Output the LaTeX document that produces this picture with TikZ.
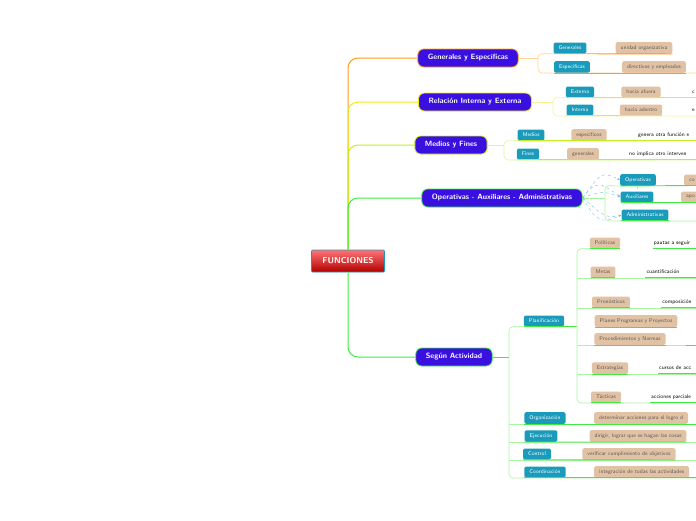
\documentclass[tikz,border=0pt]{standalone}
\usetikzlibrary{arrows.meta}
\definecolor{purp}{HTML}{3A10E0}
\definecolor{teal}{HTML}{1A9BBB}
\definecolor{tan}{HTML}{E2C2A4}
\definecolor{orng}{HTML}{FF9A1A}
\definecolor{yell}{HTML}{F2E81A}
\definecolor{lime}{HTML}{BEF21A}
\definecolor{grn}{HTML}{3EEB3E}
\definecolor{lgrn}{HTML}{A8F5A0}
\definecolor{lorng}{HTML}{FFD29A}
\definecolor{lyell}{HTML}{F5F09A}
\definecolor{llime}{HTML}{D8F7A0}
\tikzset{
 every node/.style={font=\sffamily},
 main/.style={draw=#1,line width=0.8pt,fill=purp,rounded corners=6pt,text=white,font=\sffamily\bfseries\fontsize{7.6}{8}\selectfont,minimum height=18pt,inner xsep=10pt},
 sub/.style={fill=teal,rounded corners=1.5pt,text=white,font=\sffamily\fontsize{5.4}{6}\selectfont,minimum height=11pt,inner xsep=5pt},
 leaf/.style={fill=tan,rounded corners=1.5pt,text=black!65,font=\sffamily\fontsize{5.4}{6}\selectfont,minimum height=11pt,inner xsep=5pt},
 txt/.style={text=black,font=\sffamily\fontsize{5.4}{6}\selectfont,inner xsep=1pt},
 ul/.style={line width=0.9pt,#1},
 br/.style={line width=0.6pt,rounded corners=4pt,#1},
}
\begin{document}
\begin{tikzpicture}[x=1pt,y=-1pt]
\useasboundingbox (0,0) rectangle (696,520);
\clip (0,0) rectangle (696,520);
\coordinate (xa) at (538,0);
\coordinate (xb) at (509,0);
\coordinate (xc) at (577,0);
\coordinate (xr) at (696,0);
\node[draw=teal,line width=0.6pt,top color=red!55!white,bottom color=red!70!black,text=white,font=\sffamily\bfseries\fontsize{8.5}{9}\selectfont,minimum width=73pt,minimum height=22pt,rounded corners=1pt] (root) at (348,261) {FUNCIONES};
\node[main=orng] (b1) at (468,58) {Generales y Especificas};
\node[main=yell] (b2) at (475,102) {Relación Interna y Externa};
\node[main=lime] (b3) at (451,145) {Medios y Fines};
\node[main=grn] (b4) at (502,198) {Operativas - Auxiliares - Administrativas};
\node[main=grn] (b5) at (454,357) {Según Actividad};
\draw[orng,line width=1pt,rounded corners=10pt] (root.north) |- (b1.west);
\draw[yell,line width=1pt,rounded corners=10pt] (root.north) |- (b2.west);
\draw[lime,line width=1pt,rounded corners=10pt] (root.north) |- (b3.west);
\draw[grn,line width=1pt,rounded corners=10pt] (root.north) |- (b4.west);
\draw[grn,line width=1pt,rounded corners=10pt] (root.south) |- (b5.west);
% branch 1
\node[sub] (g1) at (570,48) {Generales};
\node[sub] (g2) at (572,67) {Especificas};
\node[leaf] (g1l) at (644,48) {unidad organizativa};
\node[leaf] (g2l) at (654,67) {directivos y empleados};
\draw[br=lorng] (b1.east) -- (538,58);
\draw[br=lorng] (g1.south west) -- (xa |- g1.south west) -- (538,73) -- (696,73);
\draw[ul=orng] (g1.south west) -- (g1l.south east);
\draw[ul=orng] (g2.south west) -- (g2l.south east);
% branch 2
\node[sub] (e1) at (580,92) {Externa};
\node[sub] (e2) at (580,110) {Interna};
\node[leaf] (e1l) at (641,92) {hacia afuera};
\node[leaf] (e2l) at (641,110) {hacia adentro};
\node[txt,anchor=west] (e1t) at (691,92) {c};
\node[txt,anchor=west] (e2t) at (691,110) {e};
\draw[br=lyell] (b2.east) -- (553,102);
\draw[br=lyell] (e1.south west) -- (553,97.5) -- (553,116) -- (696,116);
\draw[ul=yell] (e1.south west) -- (696,97.5);
\draw[ul=yell] (e2.south west) -- (e2l.south east);
% branch 3
\node[sub] (m1) at (531,135) {Medios};
\node[sub] (m2) at (528,154) {Fines};
\node[leaf] (m1l) at (589,135) {especificos};
\node[leaf] (m2l) at (583,154) {generales};
\node[txt,anchor=west] (m1t) at (637,135) {genera otra función e};
\node[txt,anchor=west] (m2t) at (628,154) {no implica otro interven};
\draw[br=llime] (b3.east) -- (504,145);
\draw[br=llime] (m1.south west) -- (504,140.5) -- (504,160) -- (696,160);
\draw[ul=lime] (m1.south west) -- (696,140.5);
\draw[ul=lime] (m2.south west) -- (696,159.5);
% branch 4
\node[sub] (o1) at (638,180) {Operativas};
\node[sub] (o2) at (637,197) {Auxiliares};
\node[sub] (o3) at (645,215) {Administrativas};
\node[leaf,anchor=west] (o1l) at (684,180) {co};
\node[leaf,anchor=west] (o2l) at (681,197) {apo};
\draw[br=lgrn] (b4.east) -- (605,198);
\draw[br=lgrn] (o1.south west) -- (605,185.5) -- (605,221) -- (696,221);
\draw[ul=grn] (o1.south west) -- (696,185.5);
\draw[ul=grn] (o2.south west) -- (696,202.5);
\draw[ul=grn] (o3.south west) -- (o3.south east);
\draw[teal!60,dashed,-{Stealth[length=3pt]}] (b4.east) .. controls (600,175) and (600,170) .. (o1.west);
\draw[teal!60,dashed,-{Stealth[length=3pt]}] (b4.east) .. controls (603,190) and (605,192) .. (o2.west);
\draw[teal!60,dashed,-{Stealth[length=3pt]}] (b4.east) .. controls (600,212) and (605,220) .. (o3.west);
\draw[teal!60,dashed,-{Stealth[length=3pt]}] (b4.east) .. controls (596,180) and (600,182) .. (o2.west);
\draw[teal!60,dashed,-{Stealth[length=3pt]}] (b4.east) .. controls (596,220) and (600,225) .. (o3.west);
\draw[teal!60,dashed] (o1.south) -- (o2.north);
% branch 5
\node[sub] (p) at (544,321) {Planificación};
\node[sub] (s2) at (545,418) {Organización};
\node[sub] (s3) at (541,436) {Ejecución};
\node[sub] (s4) at (537,454) {Control};
\node[sub] (s5) at (545,472) {Coordinación};
\node[leaf,anchor=west] (s2l) at (594,418) {determinar acciones para el logro d};
\node[leaf] (s3l) at (638,436) {dirigir, lograr que se hagan las cosas};
\node[leaf] (s4l) at (629,454) {verificar cumplimiento de objetivos};
\node[leaf,anchor=west] (s5l) at (594,472) {integración de todas las actividades};
\draw[grn,line width=1pt] (b5.east) -- (509,357);
\draw[br=lgrn] (p.south west) -- (xb |- p.south west) -- (509,478) -- (696,478);
\foreach \y in {424,442,460}{\draw[lgrn,line width=0.6pt] (509,\y) -- (696,\y);}
\draw[ul=grn] (p.south west) -- (xc |- p.south west);
\draw[ul=grn] (s2.south west) -- (xr |- s2.south west);
\draw[ul=grn] (s3.south west) -- (s3l.south east);
\draw[ul=grn] (s4.south west) -- (s4l.south east);
\draw[ul=grn] (s5.south west) -- (xr |- s5.south west);
% planificacion
\node[leaf] (q1) at (605,243) {Políticas};
\node[leaf] (q2) at (603,272) {Metas};
\node[leaf] (q3) at (611,302) {Pronósticos};
\node[leaf] (q4) at (636,321) {Planes Programas y Proyectos};
\node[leaf] (q5) at (630,339) {Procedimientos y Normas};
\node[leaf] (q6) at (610,368) {Estrategias};
\node[leaf] (q7) at (606,397) {Tácticas};
\node[txt] (t1) at (672,243) {pautas a seguir};
\node[txt] (t2) at (663,272) {cuantificación};
\node[txt] (t3) at (677,302) {composición};
\node[txt,anchor=west] (t6) at (658,368) {cursos de acc};
\node[txt,anchor=west] (t7) at (650,397) {acciones parciale};
\draw[br=lgrn] (q1.south west) -- (xc |- q1.south west) -- (577,403) -- (696,403);
\foreach \y in {278,308,345,374}{\draw[lgrn,line width=0.6pt] (577,\y) -- (696,\y);}
\foreach \n in {q1,q2,q3,q4,q5,q6,q7}{\draw[ul=grn] (\n.south west) -- (\n.south east);}
\draw[ul=grn] (t1.south west) -- (xr |- t1.south west);
\draw[ul=grn] (t2.south west) -- (xr |- t2.south west);
\draw[ul=grn] (t3.south west) -- (xr |- t3.south west);
\draw[ul=grn] (t6.south west) -- (xr |- t6.south west);
\draw[ul=grn] (t7.south west) -- (xr |- t7.south west);
\draw[ul=grn] (q5.south east) ++(20,0) -- (xr |- q5.south east);
\end{tikzpicture}
\end{document}
